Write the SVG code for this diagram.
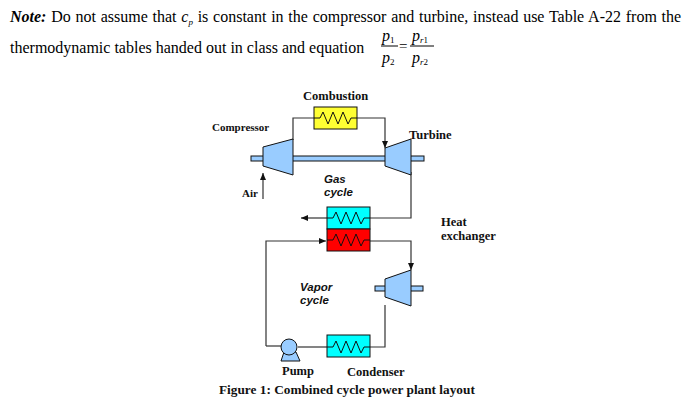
<svg xmlns="http://www.w3.org/2000/svg" width="698" height="404" viewBox="0 0 698 404">
<defs>
<marker id="a" markerWidth="8" markerHeight="8" refX="7" refY="3" orient="auto" markerUnits="userSpaceOnUse"><path d="M0 0L7 3L0 6z" fill="#111"/></marker>
</defs>
<style>
.t{font-family:"Liberation Serif",serif;fill:#000}
.l{font-family:"Liberation Serif",serif;font-weight:bold;font-size:12.5px;fill:#111}
.i{font-family:"Liberation Sans",sans-serif;font-weight:bold;font-style:italic;font-size:11.5px;fill:#111}
.w{fill:none;stroke:#111;stroke-width:1}
.c{fill:none;stroke:#333;stroke-width:1.2}
.u{fill:#99ccff;stroke:#111;stroke-width:1}
</style>
<rect width="698" height="404" fill="#fff"/>
<text class="t" x="10" y="22" font-size="16px" word-spacing="0.75"><tspan font-weight="bold" font-style="italic">Note:</tspan> Do not assume that <tspan font-style="italic">c</tspan><tspan font-style="italic" font-size="9px" dy="3">p</tspan><tspan dy="-3"> is constant in the compressor and turbine, instead use Table A-22 from the</tspan></text>
<text class="t" x="10" y="53" font-size="16px">thermodynamic tables handed out in class and equation</text>
<g id="equation">
<text class="t" x="382" y="41" font-size="16px" font-style="italic">p<tspan font-size="9px" font-style="normal" dy="2">1</tspan></text>
<text class="t" x="382" y="63" font-size="16px" font-style="italic">p<tspan font-size="9px" font-style="normal" dy="2">2</tspan></text>
<text class="t" x="412" y="41" font-size="16px" font-style="italic">p<tspan font-size="9px" dy="2">r</tspan><tspan font-size="9px" font-style="normal">1</tspan></text>
<text class="t" x="412" y="63" font-size="16px" font-style="italic">p<tspan font-size="9px" dy="2">r</tspan><tspan font-size="9px" font-style="normal">2</tspan></text>
<path d="M381 46H398M410 46H434" stroke="#000" stroke-width="1" fill="none"/>
<text class="t" x="399" y="51" font-size="15px">=</text>
</g>
<g id="connectors">
<path class="c" d="M293 140V118H314"/>
<path class="c" d="M357 118H385V148" marker-end="url(#a)"/>
<path class="c" d="M411 172V218H370"/>
<path class="c" d="M327 218H301" marker-end="url(#a)"/>
<path class="c" d="M266 346V241H326" marker-end="url(#a)"/>
<path class="c" d="M266 346H281"/>
<path class="c" d="M370 241H411V270" marker-end="url(#a)"/>
<path class="c" d="M385 305V347H370"/>
<path class="c" d="M298 347H327"/>
<path class="c" d="M263 199V173" marker-end="url(#a)"/>
</g>
<g id="shaft"><rect class="u" x="251" y="156" width="173" height="5"/></g>
<g id="compressor"><path class="u" d="M263 147L293 139V175L263 166z"/></g>
<g id="turbine"><path class="u" d="M385 148L411 139V175L385 166z"/></g>
<g id="combustion"><rect x="314" y="107" width="43" height="22" fill="#ffff33" stroke="#111"/><path class="w" d="M314 118H320L323 112L328 124L333 112L338 124L343 112L348 124L351 118H357"/></g>
<g id="hx-gas"><rect x="327" y="207" width="43" height="22" fill="#00ffff" stroke="#111"/><path class="w" d="M327 218H333L336 212L341 224L346 212L351 224L356 212L361 224L364 218H370"/></g>
<g id="hx-vapor"><rect x="327" y="229" width="43" height="22" fill="#ff0000" stroke="#111"/><path class="w" d="M327 240H333L336 234L341 246L346 234L351 246L356 234L361 246L364 240H370"/></g>
<g id="steam-turbine"><rect class="u" x="375" y="286" width="48" height="5"/><path class="u" d="M385 279L411 270V306L385 297z"/></g>
<g id="condenser"><rect x="327" y="335" width="43" height="22" fill="#00ffff" stroke="#111"/><path class="w" d="M327 347H333L336 341L341 353L346 341L351 353L356 341L361 353L364 347H370"/></g>
<g id="pump"><path class="u" d="M284 352H296L300 361H281z"/><circle class="u" cx="289" cy="347" r="8"/></g>
<g id="labels">
<text class="l" x="303" y="100">Combustion</text>
<text class="l" x="212" y="131" style="font-size:11px">Compressor</text>
<text class="l" x="409" y="139">Turbine</text>
<text class="l" x="242" y="197" style="font-size:11px">Air</text>
<text class="i" x="324" y="183">Gas</text>
<text class="i" x="324" y="196">cycle</text>
<text class="l" x="441" y="226">Heat</text>
<text class="l" x="441" y="240">exchanger</text>
<text class="i" x="300" y="291">Vapor</text>
<text class="i" x="300" y="304">cycle</text>
<text class="l" x="282" y="375">Pump</text>
<text class="l" x="347" y="376">Condenser</text>
<text class="l" x="219" y="394" style="font-size:13.3px">Figure 1: Combined cycle power plant layout</text>
</g>
</svg>
